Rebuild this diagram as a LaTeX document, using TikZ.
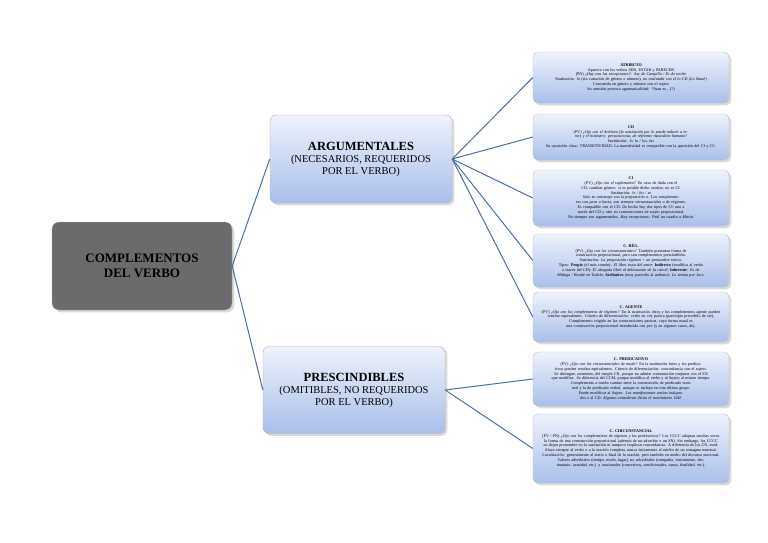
\documentclass[tikz,border=0pt]{standalone}
\usepackage{fontspec}
\setmainfont{Liberation Serif}
\usetikzlibrary{shadows}
\definecolor{boxtop}{HTML}{EEF2FC}
\definecolor{boxbot}{HTML}{A9BFEA}
\definecolor{linkc}{HTML}{4A6FA5}
\begin{document}
\begin{tikzpicture}[x=1pt,y=-1pt,
 mainbox/.style={draw=gray!60,rounded corners=6pt,top color=boxtop,bottom color=boxbot,drop shadow={opacity=0.3},align=center,inner sep=3pt},
 smallbox/.style={draw=gray!50,rounded corners=5pt,top color=boxtop,bottom color=boxbot,drop shadow={opacity=0.3},align=center,font=\fontsize{4.1}{4.9}\selectfont,inner sep=1.5pt},
 link/.style={draw=linkc,line width=1pt}]
\useasboundingbox (0,0) rectangle (768,543);
\node[draw=gray!60,rounded corners=7pt,fill=black!58,minimum width=180,minimum height=88,align=center,font=\bfseries\fontsize{13}{15}\selectfont,drop shadow={opacity=0.3}] (root) at (142,266) {COMPLEMENTOS\\DEL VERBO};
\node[mainbox,minimum width=182,minimum height=88,font=\fontsize{10.5}{12}\selectfont] (arg) at (361,159) {{\bfseries\fontsize{12.5}{15}\selectfont ARGUMENTALES}\\(NECESARIOS, REQUERIDOS\\POR EL VERBO)};
\node[mainbox,minimum width=182,minimum height=87,font=\fontsize{10.5}{12}\selectfont] (pre) at (354,390) {{\bfseries\fontsize{12.5}{15}\selectfont PRESCINDIBLES}\\(OMITIBLES, NO REQUERIDOS\\POR EL VERBO)};
\tikzset{sb/.style={smallbox,text width=190,minimum width=196}}
\node[sb,minimum height=51] (b1) at (631,77.5) {\textbf{ATRIBUTO}\\Aparece con los verbos SER, ESTAR y PARECER\\(PN) \textit{¿Hay con las excepciones?: Soy de Campillo / Es de noche}\\Sustitución: \textit{lo} (sin variación de género o número), no confundir con el \textit{lo} CD (\textit{Lo llamé})\\Concuerda en género y número con el sujeto\\Su omisión provoca agramaticalidad: *Juan es\dots (?)};
\node[sb,minimum height=46] (b2) at (631,137) {\textbf{CD}\\(PV) \textit{¿Ojo con el Atributo (la sustitución por lo puede inducir a error) y el lo/neutro: persona/cosa, de referente masculino humano?}\\Sustitución: \textit{lo, la / los, las}\\Su oposición clara: TRANSITIVIDAD. La transitividad es compatible con la aparición del CI y CC.};
\node[sb,minimum height=56] (b3) at (631,198) {\textbf{CI}\\(PV) \textit{¿Ojo con el suplemento?} En caso de duda con el CD, cambiar género: si es posible dicho cambio, no es CI.\\Sustitución: \textit{le / les / se}\\Solo se construye con la preposición \textit{a}. Los complementos con \textit{para} o \textit{hacia}, son siempre circunstanciales o de régimen.\\Es compatible con el CD. De hecho hay dos tipos de CI: uno a través del CD y otro en construcciones de sujeto preposicional.\\No siempre son argumentales. \textit{Hay excepciones: Pedí un cuadro a María.}};
\node[sb,minimum height=53] (b4) at (631,260.5) {\textbf{C. RÉG.}\\(PV) \textit{¿Ojo con los circunstanciales?} También presentan forma de construcción preposicional, pero son complementos prescindibles.\\Sustitución: \textit{La preposición régimen + un pronombre tónico.}\\Tipos: \textbf{Propio} (el más común): \textit{El libro trata del amor}; \textbf{Indirecto} (modifica al verbo a través del CD): \textit{El abogado libró al delincuente de la cárcel}; \textbf{Inherente}: \textit{Es de Málaga / Reside en Tudela}; \textbf{Atributivo} (muy parecido al atributo): \textit{Lo tenían por loco.}};
\node[sb,minimum height=50] (b5) at (631,317) {\textbf{C. AGENTE}\\(PV) \textit{¿Ojo con los complementos de régimen?} En la sustitución, éstos y los complementos agente pueden resultar equivalentes. Criterio de diferenciación: verbo en voz pasiva (participio precedido de ser).\\Complemento exigido en las construcciones pasivas, cuya forma usual es una construcción preposicional introducida con \textit{por} (y en algunos casos, \textit{de}).};
\node[sb,minimum height=54] (b6) at (631,379) {\textbf{C. PREDICATIVO}\\(PV) \textit{¿Ojo con los circunstanciales de modo?} En la sustitución éstos y los predicativos pueden resultar equivalentes. Criterio de diferenciación: concordancia con el sujeto.\\Se distingue, asimismo, del simple CN, porque no admite conmutación conjunta con el SN que modifica. Se diferencia del CCM, porque modifica al verbo y al Sujeto al mismo tiempo.\\Complemento a medio camino entre la construcción de predicado nominal y la de predicado verbal, aunque se incluye en este último grupo.\\Puede modificar al Sujeto: \textit{Los manifestantes venían indignados} o al CD: \textit{Algunos consideran ilícito el movimiento 15M.}};
\node[sb,minimum height=69] (b7) at (631,448.5) {\textbf{C. CIRCUNSTANCIAL}\\(PV / PN) \textit{¿Ojo con los complementos de régimen y los predicativos?} Los CCCC adoptan muchas veces la forma de una construcción preposicional (además de un adverbio o un SN). Sin embargo, los CCCC no dejan pronombre en la sustitución ni tampoco implican concordancia. A diferencia de los CN, modifican siempre al verbo o a la oración completa, nunca únicamente al núcleo de un sintagma nominal.\\Localización: generalmente al inicio o final de la oración, pero también en medio del discurso oracional.\\Valores adverbiales (tiempo, modo, lugar), no adverbiales (compañía, instrumento, destinatario, cantidad, etc.) y oracionales (concesivos, condicionales, causa, finalidad, etc.).};
\draw[link] (root.east) -- (arg.west);
\draw[link] (root.east) -- (pre.west);
\foreach \b in {b1,b2,b3,b4,b5} \draw[link] (arg.east) -- (\b.west);
\foreach \b in {b6,b7} \draw[link] (pre.east) -- (\b.west);
\end{tikzpicture}
\end{document}
